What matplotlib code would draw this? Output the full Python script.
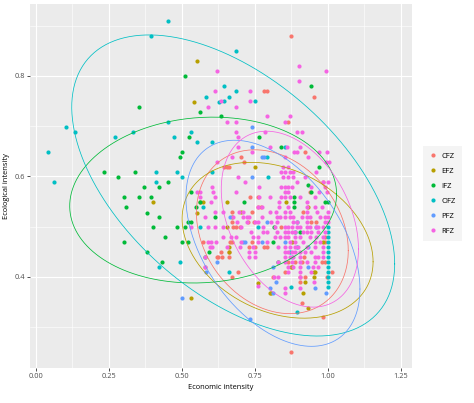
import numpy as np
import matplotlib
matplotlib.use("Agg")
import matplotlib.pyplot as plt
from matplotlib.lines import Line2D

plt.rcParams['font.family'] = ['Open Sans', 'DejaVu Sans']

groups = ['CFZ', 'EFZ', 'IFZ', 'OFZ', 'PFZ', 'RFZ']
colors = ['#F8766D', '#B79F00', '#00BA38', '#00BFC4', '#619CFF', '#F564E3']

# CFZ points as rows: (y, [x, ...])
cfz_rows = [
    (0.880, [0.873]), (0.770, [0.782, 0.791]), (0.759, [0.953]), (0.709, [0.862]),
    (0.649, [0.922]), (0.639, [0.702]), (0.629, [0.713]), (0.619, [0.644, 0.653, 0.662]),
    (0.589, [0.984]), (0.570, [0.938]), (0.560, [0.733, 0.761]), (0.540, [0.760, 0.771]),
    (0.530, [0.672, 0.742, 0.915]), (0.510, [0.672, 0.725, 0.748, 0.944, 0.961]),
    (0.500, [0.676, 0.684, 0.699, 0.839]), (0.480, [0.990]),
    (0.470, [0.573, 0.665, 0.672, 0.742, 0.990]), (0.460, [0.730, 0.750, 0.780, 0.790]),
    (0.450, [0.633, 0.662]), (0.440, [0.621, 0.625, 0.639, 0.662, 0.919]),
    (0.430, [0.864, 0.887, 0.910, 0.979, 0.990]), (0.419, [0.581]),
    (0.410, [0.693, 0.853, 1.016]), (0.400, [0.673, 0.813, 0.904, 0.921, 0.996]),
    (0.389, [0.904]), (0.349, [0.913]), (0.320, [0.984]), (0.250, [0.873]),
]

efz_x = [0.551, 0.542, 0.752, 0.402, 0.573, 0.552, 0.533, 0.653, 0.662, 0.562, 0.856,
         0.933, 0.876, 0.984, 0.761, 0.805, 0.873, 0.953, 0.953, 0.915, 0.933, 0.801,
         0.921, 0.876, 0.672, 0.956, 0.653, 0.702, 0.662]
efz_y = [0.830, 0.749, 0.619, 0.550, 0.550, 0.528, 0.359, 0.500, 0.450, 0.550, 0.550,
         0.540, 0.470, 0.470, 0.388, 0.369, 0.419, 0.409, 0.400, 0.369, 0.339, 0.369,
         0.390, 0.420, 0.520, 0.410, 0.550, 0.530, 0.460]

ifz_x = [0.511, 0.352, 0.562, 0.633, 0.523, 0.502, 0.493, 0.943, 0.763, 0.841, 0.970,
         0.885, 0.944, 0.232, 0.281, 0.340, 0.372, 0.422, 0.451, 0.302, 0.352, 0.393,
         0.533, 0.310, 0.381, 0.422, 0.402, 0.482, 0.511, 0.522, 0.533, 0.550, 0.562,
         0.613, 0.443, 0.302, 0.502, 0.522, 0.381, 0.433, 0.593, 0.581, 0.713, 0.884,
         0.990, 1.001, 0.884, 0.816, 0.813, 0.904, 0.932, 0.830]
ifz_y = [0.799, 0.739, 0.729, 0.720, 0.679, 0.649, 0.639, 0.780, 0.679, 0.659, 0.619,
         0.560, 0.570, 0.609, 0.599, 0.609, 0.579, 0.579, 0.589, 0.560, 0.560, 0.560,
         0.570, 0.540, 0.528, 0.520, 0.500, 0.500, 0.500, 0.510, 0.510, 0.540, 0.550,
         0.520, 0.479, 0.470, 0.470, 0.470, 0.450, 0.430, 0.450, 0.439, 0.550, 0.550,
         0.550, 0.550, 0.540, 0.500, 0.470, 0.490, 0.583, 0.430]

ofz_x = [0.452, 0.393, 0.684, 0.103, 0.133, 0.041, 0.062, 0.452, 0.271, 0.332, 0.472,
         0.531, 0.551, 0.603, 0.582, 0.643, 0.627, 0.662, 0.684, 0.644, 0.752, 0.411,
         0.411, 0.482, 0.502, 0.603, 0.790, 0.794, 0.853, 0.573, 0.562, 0.493, 0.421,
         0.661, 0.873, 0.894, 0.761, 0.894, 0.887, 0.894, 0.870,
         1.0, 1.0, 1.0, 1.0, 1.0, 1.0, 1.0, 1.0, 1.0, 1.0, 1.0, 1.0, 1.0]
ofz_y = [0.909, 0.880, 0.850, 0.699, 0.689, 0.649, 0.589, 0.708, 0.678, 0.688, 0.678,
         0.689, 0.669, 0.669, 0.759, 0.780, 0.748, 0.759, 0.770, 0.750, 0.750, 0.609,
         0.589, 0.609, 0.599, 0.609, 0.639, 0.599, 0.659, 0.540, 0.500, 0.430, 0.419,
         0.410, 0.380, 0.330, 0.500, 0.510, 0.490, 0.460, 0.450,
         0.38, 0.39, 0.40, 0.41, 0.42, 0.43, 0.44, 0.45, 0.46, 0.47, 0.48, 0.49, 0.50]

pfz_x = [0.742, 0.742, 0.773, 0.782, 0.742, 0.502, 0.582, 0.665, 0.622, 0.790, 0.773,
         0.853, 0.933, 0.961, 0.718, 0.710, 0.813, 0.822, 0.801, 0.813, 0.933, 0.956,
         0.993, 0.733, 0.876]
pfz_y = [0.699, 0.659, 0.639, 0.639, 0.599, 0.359, 0.410, 0.520, 0.430, 0.510, 0.470,
         0.470, 0.460, 0.500, 0.470, 0.470, 0.420, 0.390, 0.379, 0.369, 0.420, 0.379,
         0.369, 0.317, 0.440]

# RFZ points as rows: (y, [x, ...])
rfz_rows = [
    (0.820, [0.903]), (0.810, [0.622, 0.993]), (0.789, [0.903]), (0.770, [0.612, 0.733]),
    (0.750, [0.634, 0.733]), (0.739, [0.591, 0.684]), (0.720, [0.793, 0.870]),
    (0.709, [0.653, 0.684, 0.853]), (0.689, [0.684, 0.784, 0.893, 0.912]),
    (0.679, [0.693]), (0.659, [0.693, 0.801, 0.861, 0.904]),
    (0.649, [0.741, 0.885, 0.895, 0.970, 0.998]), (0.639, [0.672, 0.853, 0.933]),
    (0.629, [0.622, 0.993, 1.003]), (0.619, [0.845, 0.862]),
    (0.609, [0.841, 0.852, 0.870, 0.882, 0.961]), (0.599, [0.693, 0.847, 0.864, 0.882, 0.921]),
    (0.589, [0.716, 0.893, 0.984, 1.001]),
    (0.579, [0.603, 0.763, 0.841, 0.853, 0.864, 0.876, 0.944, 0.990]),
    (0.570, [0.551, 0.562, 0.607, 0.685, 0.853, 0.864, 0.970, 0.998]),
    (0.560, [0.562, 0.613, 0.764, 0.801, 0.839, 0.853, 0.870, 0.904, 0.955]),
    (0.550, [0.600, 0.833, 0.927]),
    (0.540, [0.762, 0.773, 0.833, 0.864, 0.927, 0.955, 0.980]),
    (0.530, [0.613, 0.641, 0.697, 0.710, 0.802, 0.823, 0.853, 0.870, 0.927, 0.962, 1.002]),
    (0.520, [0.581, 0.674, 0.710, 0.722, 0.731, 0.773, 0.825, 0.836, 0.853, 0.870, 0.882,
             0.910, 0.927, 0.939, 0.973, 0.990, 1.002]),
    (0.510, [0.690, 0.722, 0.750, 0.762, 0.807, 0.825, 0.882, 0.893, 0.927, 0.990, 1.002]),
    (0.500, [0.533, 0.590, 0.613, 0.642, 0.704, 0.779, 0.819, 0.853, 0.864, 0.876, 0.893,
             0.905, 0.927, 0.939, 0.959, 0.967, 0.985]),
    (0.490, [0.738, 0.779, 0.790, 0.825, 0.853, 0.864, 0.876, 0.887, 0.916, 0.927, 0.944,
             0.967, 0.990]),
    (0.480, [0.642, 0.670, 0.687, 0.745, 0.762, 0.819, 0.836, 0.853, 0.864, 0.887, 0.905,
             0.939, 0.959, 0.985]),
    (0.470, [0.590, 0.601, 0.617, 0.704, 0.762, 0.790, 0.870, 0.887, 0.916, 0.956, 0.973]),
    (0.460, [0.596, 0.602, 0.653, 0.699, 0.745, 0.830, 0.853, 0.870, 0.887, 0.899, 0.927,
             0.956, 0.985]),
    (0.450, [0.731, 0.750, 0.853, 0.864, 0.876, 0.887, 0.905, 0.922, 0.944, 0.985]),
    (0.440, [0.580, 0.731, 0.750, 0.853, 0.870, 0.882, 0.905, 0.956, 0.967, 0.985]),
    (0.430, [0.830, 0.853, 0.876, 0.905, 0.927, 0.956]),
    (0.420, [0.580, 0.864, 0.882, 0.905, 0.950, 0.967]),
    (0.410, [0.864, 0.905, 0.944]),
    (0.400, [0.815, 0.830, 0.905]),
    (0.389, [0.953]), (0.383, [0.761]), (0.379, [0.853, 0.905]), (0.369, [0.853]),
]

# ellipse summaries: centre, half extents and correlation
ell_cx = [0.810, 0.828, 0.573, 0.676, 0.812, 0.870]
ell_cy = [0.490, 0.473, 0.553, 0.582, 0.467, 0.515]
ell_sx = [0.260, 0.327, 0.457, 0.553, 0.298, 0.235]
ell_sy = [0.163, 0.155, 0.165, 0.2995, 0.205, 0.175]
ell_rho = [-0.231, -0.276, 0.072, -0.521, -0.444, -0.340]


def unrow(rows):
    xs, ys = [], []
    for yv, row in rows:
        xs += row
        ys += [yv] * len(row)
    return xs, ys


cfz_x, cfz_y = unrow(cfz_rows)
rfz_x, rfz_y = unrow(rfz_rows)
pts = [(cfz_x, cfz_y), (efz_x, efz_y), (ifz_x, ifz_y),
       (ofz_x, ofz_y), (pfz_x, pfz_y), (rfz_x, rfz_y)]

fig = plt.figure(figsize=(4.74, 4.03), dpi=100)
ax = fig.add_axes([0.063, 0.087, 0.806, 0.903])
ax.set_facecolor('#EBEBEB')
for s in ax.spines.values():
    s.set_visible(False)

for (x, y), c in zip(pts, colors):
    ax.scatter(x, y, s=9, color=c, linewidths=0, zorder=3)

t = np.linspace(0, 2 * np.pi, 300)
for i, c in enumerate(colors):
    ex = ell_cx[i] + ell_sx[i] * np.cos(t)
    ey = ell_cy[i] + ell_sy[i] * (ell_rho[i] * np.cos(t)
                                  + np.sqrt(1 - ell_rho[i] ** 2) * np.sin(t))
    ax.plot(ex, ey, color=c, lw=0.55, zorder=4)

ax.set_xlim(-0.0205, 1.288)
ax.set_ylim(0.219, 0.943)
ax.set_xticks([0, 0.25, 0.5, 0.75, 1.0, 1.25])
ax.set_xticklabels(['0.00', '0.25', '0.50', '0.75', '1.00', '1.25'])
ax.set_yticks([0.4, 0.6, 0.8])
ax.set_yticklabels(['0.4', '0.6', '0.8'])
ax.set_xticks([0.125, 0.375, 0.625, 0.875, 1.125], minor=True)
ax.set_yticks([0.3, 0.5, 0.7, 0.9], minor=True)
ax.grid(which='major', color='white', lw=0.8)
ax.grid(which='minor', color='white', lw=0.4)
ax.set_axisbelow(True)
ax.tick_params(which='major', length=2, width=0.6, color='#333333',
               labelsize=5.3, labelcolor='#4D4D4D', pad=1.5)
ax.tick_params(which='minor', length=0)
ax.set_xlabel('Economic intensity', fontsize=5.4, labelpad=3)
ax.set_ylabel('Ecological intensity', fontsize=5.4, labelpad=3)

handles = [Line2D([], [], marker='o', ls='none', color=c, markersize=3, markeredgewidth=0)
           for c in colors]
leg = fig.legend(handles, groups, loc='center left', bbox_to_anchor=(0.893, 0.52),
                 frameon=True, facecolor='#F2F2F2', edgecolor='none', fancybox=False,
                 fontsize=5.5, labelspacing=1.0, handletextpad=0.6, handlelength=1.0,
                 borderpad=0.8, borderaxespad=0)

fig.savefig('out.png', dpi=100)
